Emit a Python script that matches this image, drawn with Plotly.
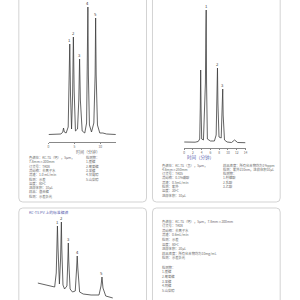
import plotly.graph_objects as go

# ---------------- data ----------------
# Top-left chromatogram (sugars)
tl_time = [0, 1.5, 2.4, 2.75, 2.9, 3.05, 3.4, 3.8, 3.95, 4.1, 4.25, 4.45, 4.65, 4.8, 4.95, 5.2, 5.6, 5.85, 6.0,
           6.15, 6.5, 7.0, 7.35, 7.5, 7.6, 7.7, 7.9, 8.3, 8.75, 9.0, 9.1, 9.2, 9.45, 9.9, 10.5, 11.2, 13]
tl_signal = [0.5, 0.5, 1, 3, 7, 3, 2, 8, 40, 91, 40, 6, 40, 98, 45, 4, 6, 35, 76,
             35, 4, 2, 12, 60, 128, 60, 10, 3, 12, 60, 117, 60, 10, 2, 2, 1, 0.5]
tl_peak_time = [4.1, 4.8, 6.0, 7.6, 9.1]
tl_peak_height = [91, 98, 76, 128, 117]
tl_peak_label = ["1", "2", "3", "4", "5"]
tl_ticks = [0, 5, 10]

# Top-right chromatogram (organic acids)
tr_time = [0, 2.5, 3.2, 3.55, 3.68, 3.77, 3.86, 4.0, 4.4, 4.85, 4.95, 5.03, 5.11, 5.3, 6.0, 6.9, 7.3, 7.5, 7.6,
           7.7, 7.95, 8.45, 8.7, 8.8, 8.9, 9.2, 9.8, 10.8, 11.5, 12.2, 14]
tr_signal = [1, 0.8, 1.5, 4, 35, 73, 35, 4, 3, 60, 110, 133, 60, 4, 2, 2, 8, 40, 75,
             40, 6, 5, 30, 54, 28, 3, 1, 0.5, 3, 0.5, 0.3]
tr_peak_time = [5.03, 7.6, 8.8]
tr_peak_height = [133, 75, 54]
tr_peak_label = ["1", "2", "3"]
tr_ticks = [0, 2, 4, 6, 8, 10, 12, 14]

# Bottom-left chromatogram (standard sugars, drifting baseline)
bl_time = [0, 2, 4.3, 4.7, 4.9, 5.0, 5.15, 5.5, 5.8, 5.95, 6.0, 6.1, 6.4, 6.8, 7.4, 7.65, 7.75, 7.85, 8.2,
           8.8, 9.5, 9.85, 10.0, 10.15, 10.6, 11.5, 13.5, 15.5, 16.0, 16.25, 16.5, 17.2, 18.2, 19]
bl_signal = [15, 13, 11, 25, 60, 72, 50, 14, 40, 68, 76, 50, 13, 9, 12, 40, 55, 38, 9,
             6, 7, 30, 42, 30, 6, 4, 3, 3, 12, 21, 10, 2, 1, 0]
bl_peak_time = [5.0, 6.0, 7.75, 10.0, 16.25]
bl_peak_height = [72, 76, 55, 42, 21]
bl_peak_label = ["1", "2", "3", "4", "5"]

axis_title = "时间（分钟）"
bl_title = "KC-TS PV 上的标准糖谱"

tl_text_left = ["色谱柱：KC-TS（钙），5μm，", "7.8mm×300mm", "订货号：TK08", "流动相：去离子水",
                "流速：1.0 mL/min", "检测：示差", "温度：80°C", "进样体积：10μL", "样品：混合糖", "检测：示差折光"]
tl_text_right = ["检测物：", "1.蔗糖", "2.葡萄糖", "3.果糖", "4.甘露醇", "5.山梨醇"]

tr_text_left = ["色谱柱：KC-TS（氢），5μm，", "4.6mm×250mm", "订货号：TK05", "流动相：0.1%磷酸",
                "流速：0.5mL/min", "检测：紫外", "温度：30°C", "进样体积：10μL"]
tr_text_right = ["样品浓度：所有化合物均为1%ppm", "检测：紫外210nm，进样体积10μL", "检测物：",
                 "1.柠檬酸", "2.乳酸", "3.乙酸"]

br_text_top = ["色谱柱：KC-TS（钙），5μm，7.8mm×300mm", "订货号：TK08", "流动相：去离子水",
               "流速：0.6mL/min", "检测：示差", "温度：80°C", "进样体积：20μL",
               "样品浓度：所有化合物均为10mg/mL", "检测：示差折光"]
br_text_bottom = ["检测物：", "1.蔗糖", "2.葡萄糖", "3.果糖", "4.阿糖", "5.山梨醇"]

# ---------------- figure ----------------
W = H = 300
FONT = "Noto Sans CJK SC"
LINE = "#3c3c3c"
TXT = "#6a6a6a"
BLUE = "#5a63b0"


def px(x):
    return x / W


def py(y):
    return 1 - y / H


fig = go.Figure()
fig.add_trace(go.Scatter(x=tl_time, y=tl_signal, mode="lines", line=dict(color=LINE, width=0.8),
                         xaxis="x", yaxis="y", hoverinfo="skip"))
fig.add_trace(go.Scatter(x=tr_time, y=tr_signal, mode="lines", line=dict(color=LINE, width=0.8),
                         xaxis="x2", yaxis="y2", hoverinfo="skip"))
fig.add_trace(go.Scatter(x=bl_time, y=bl_signal, mode="lines", line=dict(color=LINE, width=0.8),
                         xaxis="x3", yaxis="y3", hoverinfo="skip"))

annotations = []
for xr, yr, ts, hs, ls in [("x", "y", tl_peak_time, tl_peak_height, tl_peak_label),
                            ("x2", "y2", tr_peak_time, tr_peak_height, tr_peak_label),
                            ("x3", "y3", bl_peak_time, bl_peak_height, bl_peak_label)]:
    for t, h, l in zip(ts, hs, ls):
        annotations.append(dict(x=t, y=h, xref=xr, yref=yr, text=l, showarrow=False, borderpad=0,
                                yanchor="bottom", yshift=0, font=dict(size=4.2, color="#333", family=FONT)))


def text_lines(lines, x0, y0, dy, color=TXT, size=3.3):
    for i, s in enumerate(lines):
        annotations.append(dict(x=px(x0), y=py(y0 + i * dy), xref="paper", yref="paper", text=s,
                                showarrow=False, xanchor="left", yanchor="middle", borderpad=0,
                                font=dict(size=size, color=color, family=FONT)))


text_lines(tl_text_left, 27, 157.5, 4.3)
text_lines(tl_text_right, 85, 157.5, 4.3)
text_lines(tr_text_left, 162, 165, 4.3)
text_lines(tr_text_right, 223, 165, 4.3)
text_lines(br_text_top, 162, 221, 4.6)
text_lines(br_text_bottom, 162, 267, 4.7)

annotations.append(dict(x=px(75), y=py(151.5), xref="paper", yref="paper", text=axis_title, showarrow=False,
                        yanchor="middle", borderpad=0, font=dict(size=4.0, color=TXT, family=FONT)))
annotations.append(dict(x=px(216), y=py(157.5), xref="paper", yref="paper", text=axis_title, showarrow=False,
                        yanchor="middle", borderpad=0, font=dict(size=4.5, color=BLUE, family=FONT)))
annotations.append(dict(x=px(27), y=py(212.5), xref="paper", yref="paper", text=bl_title, showarrow=False,
                        xanchor="left", yanchor="middle", borderpad=0,
                        font=dict(size=3.8, color=BLUE, family=FONT)))


def rounded_box(x0, y0, x1, y1, r=4):
    X0, X1 = px(x0), px(x1)
    Y0, Y1 = py(y0), py(y1)
    R = r / W
    return (f"M {X0+R},{Y0} L {X1-R},{Y0} Q {X1},{Y0} {X1},{Y0-R} L {X1},{Y1+R} Q {X1},{Y1} {X1-R},{Y1} "
            f"L {X0+R},{Y1} Q {X0},{Y1} {X0},{Y1+R} L {X0},{Y0-R} Q {X0},{Y0} {X0+R},{Y0} Z")


shapes = []
for b in [(18, -10, 147, 202), (153, -10, 282, 202), (18, 208, 147, 310), (153, 208, 282, 310)]:
    shapes.append(dict(type="path", xref="paper", yref="paper", path=rounded_box(*b),
                       line=dict(color="#d3d3d3", width=1), fillcolor="rgba(0,0,0,0)"))

xcommon = dict(showgrid=False, zeroline=False, showline=True, linecolor="#888", linewidth=0.6,
               ticks="outside", ticklen=1.5, tickwidth=0.5, tickcolor="#888",
               tickfont=dict(size=3.3, color=TXT, family=FONT))
ycommon = dict(visible=False, showgrid=False, zeroline=False)

fig.update_layout(
    width=W, height=H, margin=dict(l=0, r=0, t=0, b=0),
    paper_bgcolor="white", plot_bgcolor="white", showlegend=False,
    xaxis=dict(domain=[px(48), px(116)], range=[0, 13], tickvals=tl_ticks, anchor="y", **xcommon),
    yaxis=dict(domain=[py(142), py(5)], range=[-7, 130], anchor="x", **ycommon),
    xaxis2=dict(domain=[px(185), px(247)], range=[0, 14], tickvals=tr_ticks, anchor="y2", **xcommon),
    yaxis2=dict(domain=[py(148), py(5)], range=[-5, 138], anchor="x2", **ycommon),
    xaxis3=dict(domain=[px(37), px(113)], range=[0, 19], anchor="y3", visible=False),
    yaxis3=dict(domain=[py(300), py(215)], range=[-2, 83], anchor="x3", **ycommon),
    annotations=annotations, shapes=shapes,
)

fig.write_html("out.html")
